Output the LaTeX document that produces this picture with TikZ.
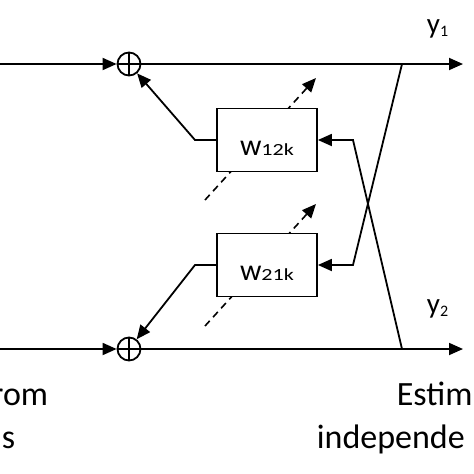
\documentclass[tikz,border=0pt]{standalone}
\usepackage{fontspec}
\setmainfont{Carlito}
\usepackage{graphicx}
\usetikzlibrary{arrows.meta}
\newcommand{\wsubtxt}[1]{\scalebox{1.3}[1]{\fontsize{17}{17}\selectfont #1}}
\newcommand{\ysubtxt}[1]{\raisebox{-3pt}{\fontsize{16}{16}\selectfont #1}}
\begin{document}
\begin{tikzpicture}[x=1pt,y=-1pt,
  line width=1.8pt,
  tipped/.style={-{Triangle[length=14pt,width=12pt]}},
  sumnode/.style={circle,draw,minimum size=23pt,inner sep=0pt},
  wbox/.style={rectangle,draw,fill=white,minimum width=100pt,minimum height=63pt,
    inner sep=0pt,text height=30pt,text depth=0pt,font=\fontsize{30}{30}\selectfont},
  dashline/.style={dash pattern=on 7pt off 5pt,line width=1.6pt},
  lbl/.style={inner sep=0pt,font=\fontsize{34}{40}\selectfont},
  ylbl/.style={inner sep=0pt,font=\fontsize{29}{29}\selectfont}]
\useasboundingbox (0,0) rectangle (474,474);

% named free ends
\coordinate (in1) at (-5,64);
\coordinate (in2) at (-5,349);
\coordinate (out1) at (463,64);
\coordinate (out2) at (463,349);
\coordinate (t1) at (402,64);
\coordinate (t2) at (402,349);
\coordinate (c1) at (353,265);
\coordinate (c2) at (353,140);
\coordinate (k1) at (195,140);
\coordinate (k2) at (195,265);
\coordinate (da) at (205,200);
\coordinate (db) at (316,78);
\coordinate (dc) at (205,326);
\coordinate (dd) at (316,204);

% dashed adaptation arrows (behind the boxes)
\draw[dashline,tipped] (da) -- (db);
\draw[dashline,tipped] (dc) -- (dd);

% nodes
\node[sumnode] (sum1) at (129,64) {};
\node[sumnode] (sum2) at (129,349) {};
\draw (sum1.north) -- (sum1.south) (sum1.west) -- (sum1.east);
\draw (sum2.north) -- (sum2.south) (sum2.west) -- (sum2.east);

\node[wbox] (box1) at (267,140) {w\wsubtxt{12k}};
\node[wbox] (box2) at (267,265) {w\wsubtxt{21k}};

% main lines
\draw[tipped] (in1) -- (sum1);
\draw[tipped] (in2) -- (sum2);
\draw[tipped] (sum1) -- (out1);
\draw[tipped] (sum2) -- (out2);

% feedback
\draw[tipped] (box1.west) -- (k1) -- (sum1);
\draw[tipped] (box2.west) -- (k2) -- (sum2);

% cross connections
\draw[tipped] (t1) -- (c1) -- (box2.east);
\draw[tipped] (t2) -- (c2) -- (box1.east);

% labels
\node[ylbl,anchor=base west] (y1lab) at (426,33) {y\ysubtxt{1}};
\node[ylbl,anchor=base west] (y2lab) at (426,313) {y\ysubtxt{2}};
\node[lbl,anchor=base east] (rom) at (49,405) {rom};
\node[lbl,anchor=base west] (s) at (1,448) {s};
\node[lbl,anchor=base west] (estim) at (396,405) {Estim};
\node[lbl,anchor=base west] (indep) at (316,448) {independe};
\end{tikzpicture}
\end{document}
